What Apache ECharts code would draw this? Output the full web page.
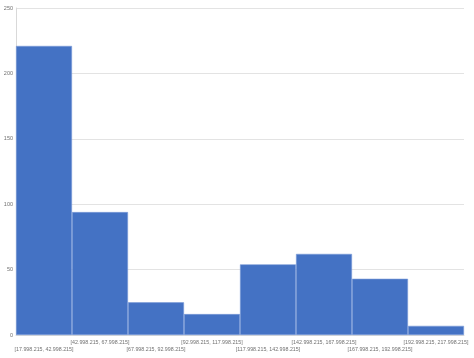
<!DOCTYPE html>
<html><head><meta charset="utf-8">
<script src="https://cdn.jsdelivr.net/npm/echarts@6/dist/echarts.min.js"></script>
<style>html,body{margin:0;padding:0;background:#fff}#c{width:474px;height:358px}</style>
</head><body><div id="c"></div>
<script>
const categories = [
  "[17.998.215, 42.998.215]",
  "[42.998.215, 67.998.215]",
  "[67.998.215, 92.998.215]",
  "[92.998.215, 117.998.215]",
  "[117.998.215, 142.998.215]",
  "[142.998.215, 167.998.215]",
  "[167.998.215, 192.998.215]",
  "[192.998.215, 217.998.215]"
];
const counts = [221, 94, 25, 16, 54, 62, 43, 7];
const yTicks = [0, 50, 100, 150, 200, 250];

const chart = echarts.init(document.getElementById('c'), null, {renderer: 'canvas'});
chart.setOption({
  animation: false,
  grid: {left: 16, right: 10, top: 8, bottom: 23},
  xAxis: {
    type: 'category',
    data: categories,
    axisLine: {show: true, lineStyle: {color: '#d9d9d9'}},
    axisTick: {show: false},
    axisLabel: {
      interval: 0,
      fontSize: 5.3,
      fontFamily: 'Liberation Sans',
      color: '#707070',
      margin: 4,
      lineHeight: 7,
      formatter: (v, i) => (i % 2 === 0 ? '\n' + v : v)
    }
  },
  yAxis: {
    type: 'value',
    min: yTicks[0],
    max: yTicks[yTicks.length - 1],
    interval: 50,
    axisLine: {show: true, lineStyle: {color: '#d9d9d9'}},
    axisTick: {show: false},
    splitLine: {lineStyle: {color: '#e3e3e3', width: 1}},
    axisLabel: {fontSize: 5.5, fontFamily: 'Liberation Sans', color: '#707070', margin: 3}
  },
  series: [{
    type: 'bar',
    data: counts,
    barCategoryGap: 0,
    itemStyle: {color: '#4472C4', borderColor: '#7a9ad6', borderWidth: 0.6}
  }]
});
</script></body></html>
